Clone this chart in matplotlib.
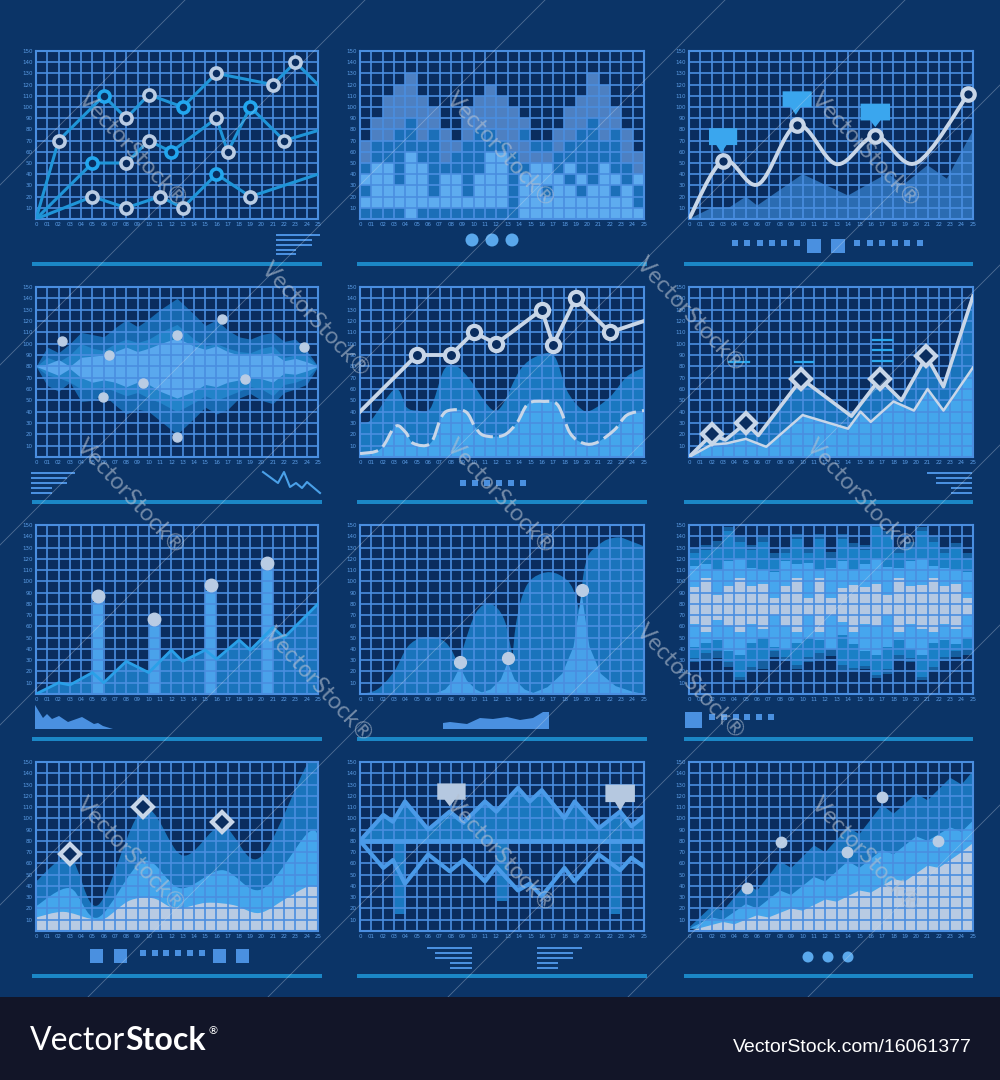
import numpy as np
import matplotlib
matplotlib.use("Agg")
import matplotlib.pyplot as plt
from matplotlib.path import Path
from matplotlib.patches import PathPatch, Rectangle, Circle, Polygon
from matplotlib.colors import ListedColormap

plt.rcParams['font.family'] = ['DejaVu Sans']

# ---------------- data ----------------
x_labels = ["0"] + ["%02d" % i for i in range(1, 26)]
y_ticks = list(range(10, 151, 10))

# panel 1 : three lines with ring markers ('w' pale ring, 'c' cyan ring)
p1_a_x = [0, 2, 6, 8, 10, 13, 16, 21, 23, 25]
p1_a_y = [0, 70, 110, 90, 111, 100, 130, 120, 140, 120]
p1_a_k = ['', 'w', 'c', 'w', 'w', 'c', 'w', 'w', 'w', '']
p1_b_x = [0, 5, 8, 10, 12, 16, 17, 19, 22, 25]
p1_b_y = [0, 50, 50, 70, 60, 90, 60, 100, 70, 79]
p1_b_k = ['', 'c', 'w', 'w', 'c', 'w', 'w', 'c', 'w', '']
p1_c_x = [0, 5, 8, 11, 13, 16, 19, 25]
p1_c_y = [0, 20, 10, 20, 10, 40, 20, 40]
p1_c_k = ['', 'w', 'w', 'w', 'w', 'c', 'w', '']

# panel 2 : cell levels, top row (140-150) first. D dark, M mid, S slate, L light
p2_rows = [
    "DDDDDDDDDDDDDDDDDDDDDDDDD",
    "DDDDDDDDDDDDDDDDDDDDDDDDD",
    "DDDDSDDDDDDDDDDDDDDDSDDDD",
    "DDDSSDDDDDDSDDDDDDDDSSDDD",
    "DDSSSSDDDDSSSDDDDDDSSSDDD",
    "DDSSSSSDDSSSSSDDDDSSSSSDD",
    "DSSSMSSDDSSSSSSDDDSSMSSDD",
    "DSSMMSMSDSMMSSMDDSSMMSMSD",
    "SMMMMMMSSMMMMSSMMSMMMMMSD",
    "SMMMLMMSMMMLLMSSSMMMMMMSS",
    "MLLMLLMMMMMLLMMLLMLMMLMMS",
    "LLLMLLMLLMLLLMLLLLMLMLLML",
    "MLLLLLMLLMLLLMLLMLLMLLMLM",
    "LLLLLLLLLLLLLMLLLLLLLLLLM",
    "MMMMLMMMMMMMMMLLLLLLLLLLL",
]

# panel 3 : smooth line, ring markers, callouts, background area
p3_x = [0, 3, 6.1, 9.5, 13, 16.4, 20, 24.6]
p3_y = [0, 52, 31, 84, 49, 74, 50, 112]
p3_ring_x = [3, 9.5, 16.4, 24.6]
p3_ring_y = [52, 84, 74, 112]
p3_area_x = [0, 2, 3.5, 5, 6, 10, 14, 17.5, 18.8, 21, 22.7, 25]
p3_area_y = [0, 10, 10, 20, 12, 40, 21, 41, 30, 48, 36, 79]
p3_bubbles = [(1.76, 4.24, 66, 81, 2.85, 59), (8.24, 10.8, 100, 114, 9.4, 93),
              (15.1, 17.7, 88, 103, 16.4, 82)]

# panel 4 : symmetric envelopes around 80
p4_x = [0, 1, 2, 3, 4, 5, 6, 7, 8, 9, 10, 11, 12.5, 14, 15, 16, 17, 18, 19, 20, 21, 22, 23, 24, 25]
p4_out_hi = [80, 97, 92, 100, 110, 108, 106, 114, 121, 115, 122, 130, 140, 126, 116, 121, 112, 106, 104, 108, 110, 102, 104, 94, 80]
p4_out_lo = [80, 63, 58, 66, 49, 50, 55, 46, 38, 42, 40, 32, 20, 34, 44, 38, 42, 52, 56, 50, 47, 57, 60, 64, 80]
p4_mid_hi = [80, 88, 84, 90, 100, 96, 94, 100, 104, 101, 104, 110, 117, 104, 98, 100, 96, 93, 92, 96, 98, 88, 90, 90, 80]
p4_mid_lo = [80, 72, 70, 66, 60, 60, 62, 58, 54, 57, 52, 48, 40, 48, 54, 50, 54, 58, 62, 60, 54, 64, 66, 70, 80]
p4_in_hi = [80, 82, 86, 80, 88, 89, 90, 93, 97, 93, 96, 100, 105, 98, 95, 98, 93, 90, 90, 91, 92, 85, 87, 84, 80]
p4_in_lo = [80, 76, 72, 78, 70, 66, 68, 66, 62, 66, 64, 58, 52, 58, 64, 62, 66, 68, 70, 69, 66, 74, 73, 76, 80]
p4_dot_x = [2.3, 5.9, 6.5, 9.5, 12.5, 12.5, 16.5, 18.5, 23.8]
p4_dot_y = [102, 53, 90, 65, 108, 18, 122, 69, 97]

# panel 5 : line with rings over two smooth areas
p5_line_x = [0, 5, 8, 10, 12, 16, 17, 19, 22, 25]
p5_line_y = [40, 90, 90, 110, 100, 130, 99, 140, 110, 120]
p5_mid_x = [0, 1, 3.1, 4.1, 5, 6.2, 7.4, 8.5, 9.7, 10.9, 11.8, 12.6, 14.1, 15.6, 17.1, 18.2, 19.4, 20.3, 22, 23.5, 25]
p5_mid_y = [30, 33, 60, 44, 41, 43, 77, 80, 68, 50, 41, 47, 77, 89, 89, 59, 43, 41, 53, 71, 79]
p5_low_x = [0, 1.8, 3.1, 4, 4.7, 6.2, 7.1, 7.8, 9.3, 10.1, 10.9, 12.6, 13.8, 14.8, 16.2, 17.4, 18.5, 19.7, 20.9, 22.4, 23.5, 25]
p5_low_y = [3, 7, 27, 22, 12, 12, 34, 41, 40, 27, 19, 19, 30, 47, 49, 46, 21, 12, 13, 24, 37, 41]

# panel 6 : rising zigzag areas with diamonds
p6_up_x = [0, 2, 3.2, 5, 6.1, 9.9, 14.3, 16.8, 18.7, 20.9, 22.4, 25]
p6_up_y = [0, 20, 15, 30, 19, 69, 36, 69, 50, 89, 62, 142]
p6_lo_x = [0, 2, 3.3, 5, 6.8, 10, 14, 15.1, 16, 18, 19.8, 21, 22.4, 25]
p6_lo_y = [0, 11, 12, 16, 9, 37, 25, 40, 31, 49, 41, 60, 41, 79]
p6_dia_x = [2, 5, 9.9, 16.8, 20.9]
p6_dia_y = [20, 30, 69, 69, 89]
p6_tags = [(3.5, 5.3, 84), (9.3, 10.9, 84), (16.2, 17.9, 103), (16.2, 17.9, 94), (16.2, 17.9, 85)]

# panel 7 : area with four bars topped by dots
p7_x = [0, 2, 3, 5, 6, 8, 10, 11, 12, 13, 15, 16, 18, 19, 21, 22, 25]
p7_y = [0, 10, 8, 19, 10, 29, 19, 29, 39, 29, 39, 31, 48, 39, 59, 50, 80]
p7_bar_x = [5.5, 10.5, 15.5, 20.5]
p7_bar_h = [82, 61, 91, 112]
p7_dot_y = [87, 67, 97, 116]

# panel 8 : four wide bells and three narrow peaks
p8_bells = [
    ([0, 1.5, 3, 4.2, 5.5, 7, 8, 9, 10], [0, 4, 20, 42, 50, 49, 40, 18, 0]),
    ([8, 9, 10.2, 11.5, 12.7, 13.5, 14.2], [0, 38, 72, 80, 66, 30, 0]),
    ([13.2, 13.7, 14.6, 16, 17.5, 18.8, 19.8, 21], [0, 60, 95, 107, 106, 92, 50, 0]),
    ([18.8, 19.7, 21, 22.6, 24, 25], [0, 108, 132, 139, 135, 131]),
]
p8_peaks = [
    ([6.5, 7.5, 8.2, 8.8, 9.4, 10.2, 11], [0, 4, 12, 24, 12, 4, 0]),
    ([10.3, 11.5, 12.4, 13, 13.6, 14.5, 15.5], [0, 4, 13, 28, 13, 4, 0]),
    ([15, 16.5, 17.8, 18.8, 19.5, 20.2, 21.2, 22.5, 24, 25], [0, 6, 18, 42, 90, 42, 18, 7, 2, 0]),
]
p8_dot_x = [8.8, 13, 19.5]
p8_dot_y = [28, 32, 92]

# panel 9 : stacked column bands
p9_pale_lo = [62, 55, 66, 60, 55, 62, 58, 70, 60, 55, 70, 55, 70, 64, 55, 62, 60, 70, 55, 62, 58, 55, 62, 58, 70]
p9_pale_hi = [95, 103, 88, 96, 103, 96, 98, 85, 96, 103, 85, 103, 85, 94, 97, 95, 98, 88, 103, 96, 97, 103, 96, 98, 85]
p9_light_lo = [42, 45, 48, 38, 35, 45, 50, 42, 40, 45, 50, 48, 40, 52, 44, 38, 35, 42, 48, 40, 35, 45, 48, 44, 50]
p9_light_hi = [114, 115, 110, 118, 120, 112, 110, 108, 118, 115, 116, 110, 112, 118, 110, 115, 120, 113, 112, 118, 120, 114, 112, 110, 108]
p9_mid_lo = [32, 36, 38, 28, 15, 24, 30, 38, 33, 26, 33, 36, 40, 26, 23, 25, 17, 22, 35, 32, 15, 24, 33, 38, 40]
p9_mid_hi = [125, 128, 130, 145, 135, 128, 135, 120, 125, 138, 125, 138, 120, 138, 130, 128, 148, 140, 125, 130, 145, 135, 125, 130, 120]
p9_deep_lo = [28, 30, 32, 24, 12, 20, 22, 33, 29, 22, 28, 31, 34, 21, 20, 22, 14, 18, 30, 28, 12, 20, 29, 33, 35]
p9_deep_hi = [130, 132, 136, 148, 140, 132, 139, 125, 130, 142, 130, 142, 126, 142, 134, 132, 150, 145, 130, 135, 148, 140, 130, 134, 125]

# panel 10 : three smooth stacked layers with diamonds
p10_top_x = [0, 3, 5.5, 9.5, 13, 16.5, 19.8, 24, 25]
p10_top_y = [44, 65, 23, 108, 67, 93, 65, 147, 148]
p10_mid_x = [0, 3, 5.5, 9.5, 12.8, 16.5, 20, 24, 25]
p10_mid_y = [22, 38, 12, 62, 38, 54, 37, 86, 86]
p10_low_x = [0, 2.4, 4.8, 6.1, 8.3, 10.4, 12.4, 15.1, 17.5, 19.8, 22.2, 24, 25]
p10_low_y = [12, 17, 11, 11, 27, 29, 20, 25, 23, 16, 29, 39, 39]
p10_dia_x = [3, 9.5, 16.5]
p10_dia_y = [68, 110, 97]

# panel 11 : mirrored zigzags around 80
p11_x = [0, 2.05, 2.9, 3.96, 6, 7.9, 9.1, 11, 12, 13.9, 14.95, 16, 18, 18.9, 21, 22.9, 23.9, 25]
p11_up = [80, 103, 97, 115, 90, 106, 96, 115, 106, 127, 115, 125, 100, 115, 91, 106, 93, 102]
p11_dn = [80, 56, 63, 42, 68, 53, 63, 44, 57, 36, 42, 31, 56, 44, 68, 54, 65, 57]
p11_bar_x = [3.55, 12.5, 22.4]
p11_bar_lo = [15, 27, 15]
p11_bubbles = [(6.8, 9.3, 116.5, 131, 7.9, 110.6), (21.6, 24.2, 114.4, 130, 22.9, 106.7)]

# panel 12 : rising zigzag stacked areas
p12_top_x = [0, 2, 3, 5, 6, 8, 9, 11, 12, 14, 15, 17, 18, 20, 21, 23, 24, 25]
p12_top_y = [3, 22, 18, 42, 36, 62, 56, 76, 70, 92, 86, 112, 104, 122, 116, 136, 130, 142]
p12_mid_x = [0, 2, 3, 5, 6, 8, 9, 11, 12, 14, 15, 17, 18, 20, 21, 23, 24, 25]
p12_mid_y = [2, 12, 10, 24, 20, 36, 32, 48, 44, 62, 56, 72, 68, 84, 80, 92, 88, 98]
p12_low_x = [0, 3, 4, 6, 7, 9, 10, 12, 13, 15, 16, 18, 19, 21, 22, 24, 25]
p12_low_y = [0, 8, 6, 14, 12, 20, 18, 28, 26, 36, 34, 46, 44, 58, 56, 70, 78]
p12_dot_x = [5.1, 8.1, 13.9, 17, 21.9]
p12_dot_y = [38, 79, 70, 119, 80]

# ---------------- style ----------------
W, H = 1000, 1080
BG = '#0b3467'
CELL = '#0a2d5f'
GRID = '#4a8ee0'
TICK = '#5b9de6'
LIGHT = '#44a6ec'
PALE = '#b9cce4'
LINEPALE = '#c8d6e8'
CYAN = '#1f95d8'
DECO = '#4a90e0'
BAR = '#1b87c6'

COLS = [(36, 318), (360, 644), (689, 973)]
ROWS = [(51, 219), (287, 457), (525, 694), (762, 931)]

fig = plt.figure(figsize=(10, 10.8), dpi=100, facecolor=BG)


def add_panel(col, row):
    x0, x1 = COLS[col]
    y0, y1 = ROWS[row]
    ax = fig.add_axes([x0 / W, 1 - y1 / H, (x1 - x0) / W, (y1 - y0) / H])
    ax.set_facecolor(CELL)
    ax.set_xlim(0, 25)
    ax.set_ylim(0, 150)
    ax.set_xticks(range(26))
    ax.set_xticklabels(x_labels)
    ax.set_yticks(y_ticks)
    ax.set_yticklabels([str(v) for v in y_ticks])
    ax.tick_params(length=0, labelsize=4, colors=TICK, pad=2.5)
    ax.grid(True, color=GRID, lw=1.2)
    ax.set_axisbelow(False)
    for s in ax.spines.values():
        s.set_color(GRID)
        s.set_linewidth(1.5)
    return ax


def smooth_verts(xs, ys):
    pts = np.column_stack([xs, ys]).astype(float)
    n = len(pts)
    verts = [pts[0]]
    for i in range(n - 1):
        p0 = pts[max(i - 1, 0)]
        p1 = pts[i]
        p2 = pts[i + 1]
        p3 = pts[min(i + 2, n - 1)]
        verts += [p1 + (p2 - p0) / 6, p2 - (p3 - p1) / 6, p2]
    return verts


def smooth_area(ax, xs, ys, base=0, **kw):
    v = smooth_verts(xs, ys)
    verts = [(xs[0], base)] + v + [(xs[-1], base), (xs[0], base)]
    codes = [Path.MOVETO, Path.LINETO] + [Path.CURVE4] * (len(v) - 1) + [Path.LINETO, Path.CLOSEPOLY]
    ax.add_patch(PathPatch(Path(verts, codes), lw=0, **kw))


def smooth_line(ax, xs, ys, **kw):
    v = smooth_verts(xs, ys)
    codes = [Path.MOVETO] + [Path.CURVE4] * (len(v) - 1)
    ax.add_patch(PathPatch(Path(v, codes), fill=False, **kw))


def bubble(ax, b, color):
    x0, x1, y0, y1, tx, ty = b
    ax.add_patch(Polygon([(x0, y0), (tx - 0.45, y0), (tx, ty), (tx + 0.45, y0), (x1, y0), (x1, y1), (x0, y1)],
                         closed=True, color=color, lw=0, zorder=6))


def rings(ax, xs, ys, color, ms=8, mew=2.6):
    ax.plot(xs, ys, 'o', ms=ms, mfc=CELL, mec=color, mew=mew, zorder=6, clip_on=False, ls='none')


# ---- panel 1
ax = add_panel(0, 0)
for xs, ys, ks in [(p1_a_x, p1_a_y, p1_a_k), (p1_b_x, p1_b_y, p1_b_k), (p1_c_x, p1_c_y, p1_c_k)]:
    ax.plot(xs, ys, color=CYAN, lw=2.2, zorder=4, solid_joinstyle='miter')
    for x, y, k in zip(xs, ys, ks):
        if k == 'w':
            rings(ax, [x], [y], PALE)
        elif k == 'c':
            rings(ax, [x], [y], '#22a6ee')

# ---- panel 2
ax = add_panel(1, 0)
lev = {'D': 0, 'M': 1, 'S': 2, 'L': 3}
cells = np.array([[lev[c] for c in r] for r in p2_rows[::-1]])
ax.pcolormesh(np.arange(26), np.arange(0, 151, 10), cells,
              cmap=ListedColormap([CELL, '#1b6fb8', '#4d80c2', '#5eacef']), vmin=-0.5, vmax=3.5, zorder=1)

# ---- panel 3
ax = add_panel(2, 0)
ax.fill(p3_area_x + [25], p3_area_y + [0], color='#2b6cb2', lw=0, zorder=1)
smooth_line(ax, p3_x, p3_y, color=LINEPALE, lw=2.8, zorder=5)
rings(ax, p3_ring_x, p3_ring_y, LINEPALE, ms=9, mew=3)
for b in p3_bubbles:
    bubble(ax, b, '#3aa6ee')

# ---- panel 4
ax = add_panel(0, 1)
ax.fill_between(p4_x, p4_out_lo, p4_out_hi, color='#1769b0', lw=0, zorder=1)
ax.fill_between(p4_x, p4_mid_lo, p4_mid_hi, color='#2283c9', lw=0, zorder=1)
ax.fill_between(p4_x, p4_in_lo, p4_in_hi, color='#5aa8ee', lw=0, zorder=1)
ax.plot(p4_dot_x, p4_dot_y, 'o', ms=6.5, color=PALE, zorder=6, ls='none')

# ---- panel 5
ax = add_panel(1, 1)
smooth_area(ax, p5_mid_x, p5_mid_y, color='#1a78c0', zorder=1)
smooth_area(ax, p5_low_x, p5_low_y, color=LIGHT, zorder=1.2)
smooth_line(ax, p5_low_x, p5_low_y, color=LINEPALE, lw=2.2, ls=(0, (6, 2)), zorder=4)
ax.plot(p5_line_x, p5_line_y, color=LINEPALE, lw=2.8, zorder=5)
rings(ax, p5_line_x[1:-1], p5_line_y[1:-1], LINEPALE, ms=9.5, mew=3)

# ---- panel 6
ax = add_panel(2, 1)
ax.fill(p6_up_x + [25], p6_up_y + [0], color='#1a74bc', lw=0, zorder=1)
ax.fill(p6_lo_x + [25], p6_lo_y + [0], color=LIGHT, lw=0, zorder=1.2)
ax.plot(p6_up_x, p6_up_y, color=LINEPALE, lw=2.6, zorder=4)
ax.plot(p6_lo_x, p6_lo_y, color=LINEPALE, lw=1.8, zorder=4)
ax.plot(p6_dia_x, p6_dia_y, 'D', ms=10, mfc=CELL, mec=LINEPALE, mew=3, zorder=6, ls='none')
for xa, xb, y in p6_tags:
    ax.plot([xa, xb], [y, y], color='#2aa8ee', lw=1.6, zorder=5)

# ---- panel 7
ax = add_panel(0, 2)
ax.fill(p7_x + [25], p7_y + [0], color='#1a74bc', lw=0, zorder=1)
ax.plot(p7_x, p7_y, color='#2aa0e8', lw=2, zorder=4)
ax.bar(p7_bar_x, p7_bar_h, width=0.95, color='#4aa2ea', zorder=1.5)
ax.plot(p7_bar_x, p7_dot_y, 'o', ms=9, color=PALE, zorder=6, ls='none')

# ---- panel 8
ax = add_panel(1, 2)
for xs, ys in p8_bells:
    smooth_area(ax, xs, ys, color='#1a74bc', zorder=1)
for xs, ys in p8_peaks:
    ax.fill(xs, ys, color='#4aa4ec', lw=0, zorder=1.3, alpha=0.95)
ax.plot(p8_dot_x, p8_dot_y, 'o', ms=8.5, color=PALE, zorder=6, ls='none')

# ---- panel 9
ax = add_panel(2, 2)
cx = np.arange(25)
for lo, hi, c in [(p9_deep_lo, p9_deep_hi, '#155f9f'), (p9_mid_lo, p9_mid_hi, '#1a80c6'),
                  (p9_light_lo, p9_light_hi, '#46a6ee'), (p9_pale_lo, p9_pale_hi, '#b4c8e2')]:
    ax.bar(cx, np.array(hi) - np.array(lo), bottom=lo, width=1, align='edge', color=c, lw=0, zorder=1)

# ---- panel 10
ax = add_panel(0, 3)
smooth_area(ax, p10_top_x, p10_top_y, color='#1a74bc', zorder=1)
smooth_area(ax, p10_mid_x, p10_mid_y, color=LIGHT, zorder=1.1)
smooth_area(ax, p10_low_x, p10_low_y, color='#b8cbe3', zorder=1.2)
ax.plot(p10_dia_x, p10_dia_y, 'D', ms=10.5, mfc=CELL, mec=LINEPALE, mew=3, zorder=6, ls='none')

# ---- panel 11
ax = add_panel(1, 3)
ax.fill_between(p11_x, 80, p11_up, color='#1a78bf', lw=0, zorder=1)
ax.bar(p11_bar_x, [80 - v for v in p11_bar_lo], bottom=p11_bar_lo, width=0.92, color='#1a78bf', zorder=1)
ax.plot(p11_x, p11_up, color='#4a9ae8', lw=3, zorder=4)
ax.plot(p11_x, p11_dn, color='#4a9ae8', lw=3, zorder=4)
ax.axhline(80, color='#4a9ae8', lw=3.5, zorder=4)
for b in p11_bubbles:
    bubble(ax, b, '#b5c8e0')

# ---- panel 12
ax = add_panel(2, 3)
ax.fill(p12_top_x + [25], p12_top_y + [0], color='#1a74bc', lw=0, zorder=1)
ax.fill(p12_mid_x + [25], p12_mid_y + [0], color=LIGHT, lw=0, zorder=1.1)
ax.fill(p12_low_x + [25], p12_low_y + [0], color='#b8cbe3', lw=0, zorder=1.2)
ax.plot(p12_dot_x, p12_dot_y, 'o', ms=7.5, color=PALE, zorder=6, ls='none')

# ---------------- decorations in pixel space ----------------
ov = fig.add_axes([0, 0, 1, 1], zorder=10)
ov.set_xlim(0, W)
ov.set_ylim(H, 0)
ov.set_facecolor('none')
ov.axis('off')


def rect(x, y, w, h, c=DECO):
    ov.add_patch(Rectangle((x, y), w, h, color=c, lw=0))


# section rules
for y in [264, 502, 739, 976]:
    for x0, x1 in [(32, 322), (357, 647), (684, 973)]:
        rect(x0, y - 2, x1 - x0, 4, BAR)

# text-like legend stripes
for y, x1 in [(235, 320), (240, 312), (245, 312), (250, 296), (254, 296)]:
    rect(276, y - 1, x1 - 276, 2)
for y, x1 in [(473, 75), (478, 67), (483, 67), (488, 52), (493, 52)]:
    rect(31, y - 1, x1 - 31, 2)
for y, x0 in [(473, 927), (478, 936), (483, 936), (488, 951), (493, 951)]:
    rect(x0, y - 1, 972 - x0, 2)
for y, x0 in [(948, 427), (953, 435), (958, 435), (963, 450), (968, 450)]:
    rect(x0, y - 1, 472 - x0, 2)
for y, x1 in [(948, 582), (953, 573), (958, 573), (963, 558), (968, 558)]:
    rect(537, y - 1, x1 - 537, 2)

# dots
for x in [472, 492, 512]:
    ov.add_patch(Circle((x, 240), 6.5, color='#5aa8ec', lw=0))
for x in [808, 828, 848]:
    ov.add_patch(Circle((x, 957), 5.5, color='#5aa8ec', lw=0))

# squares
for x in [732, 744, 757, 769, 781, 794, 854, 867, 879, 892, 904, 917]:
    rect(x, 240, 6, 6)
for x in [807, 831]:
    rect(x, 239, 14, 14)
for x in [460, 472, 484, 496, 508, 520]:
    rect(x, 480, 6, 6)
rect(685, 712, 17, 16)
for x in [709, 721, 733, 744, 756, 768]:
    rect(x, 714, 6, 6)
for x in [90, 114, 213, 236]:
    rect(x, 949, 13, 14)
for x in [140, 152, 163, 175, 187, 199]:
    rect(x, 950, 6, 6)

# small sparkline shapes
ov.plot([263, 278, 284, 290, 296, 302, 307, 320], [472, 483, 472, 487, 483, 488, 482, 493], color='#4aa0e8', lw=1.5)
ov.add_patch(Polygon([(35, 705), (43, 718), (47, 714), (52, 719), (59, 716), (68, 722), (82, 717), (94, 724),
                      (98, 723), (103, 726), (113, 729), (35, 729)], closed=True, color=DECO, lw=0))
ov.add_patch(Polygon([(443, 723), (450, 722), (467, 724), (480, 718), (493, 719), (507, 717), (520, 720),
                      (533, 718), (543, 712), (549, 712), (549, 729), (443, 729)], closed=True, color=DECO, lw=0))

# watermark strokes and text
for c in [185, 365, 545, 725, 905, 1085, 1265, 1445, 1625, 1805]:
    ov.plot([0, c], [c, 0], color='#d0dcea', lw=0.6, alpha=0.35)
for x, y in [(132, 150), (500, 150), (865, 150), (315, 320), (690, 315), (130, 497), (500, 497),
             (860, 497), (318, 685), (690, 682), (130, 855), (500, 855), (865, 855)]:
    ov.text(x, y, "VectorStock\u00ae", rotation=-47, rotation_mode='anchor', ha='center', va='center',
            fontsize=17, color='#b4c0d0', alpha=0.6, family='Lato')

# banner
ov.add_patch(Rectangle((0, 997), W, H - 997, color='#121528', lw=0, zorder=5))
t1 = ov.text(30, 1041, "Vector", fontsize=23, color='white', family='Lato',
             va='center', ha='left', zorder=6)
t2 = ov.annotate("Stock", xy=(1, 0.5), xycoords=t1, va='center', ha='left', fontsize=23,
                 weight='bold', color='white', family='Lato', zorder=6)
ov.annotate("\u00ae", xy=(1.02, 1.0), xycoords=t2, va='top', ha='left', fontsize=8, color='white', zorder=6)
ov.text(972, 1047, "VectorStock.com/16061377", ha='right', va='center', fontsize=14,
        color='white', family='Liberation Sans', zorder=6)

fig.savefig("out.png", dpi=100, facecolor=BG)
